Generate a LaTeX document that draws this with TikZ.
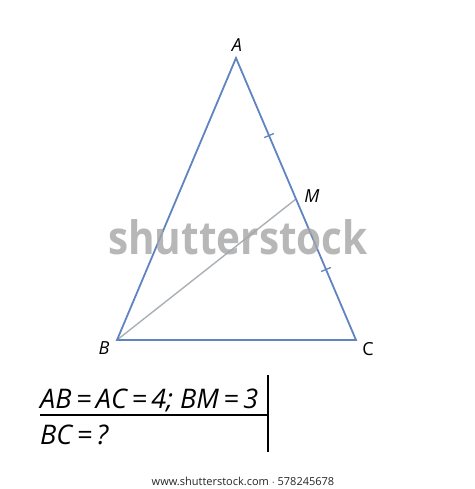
\documentclass[tikz,border=0pt]{standalone}
\usepackage{fontspec}
\setmainfont{Open Sans}
\usepackage{tikz}
\usetikzlibrary{positioning,calc}

\definecolor{sideblue}{RGB}{96,132,192}
\definecolor{cevgray}{RGB}{170,176,182}

\begin{document}
\begin{tikzpicture}[y=-1pt,x=1pt]
	\newcommand\Tick{+(-4.8,2) -- +(4.8,-2)}
	\tikzset{side/.style={draw=sideblue,line width=1.8pt,line join=miter},
		vlabel/.style={font=\fontsize{18}{20}\selectfont\itshape},
		given/.style={font=\fontsize{27}{30}\selectfont\itshape,anchor=base west,inner sep=0pt}}
	\useasboundingbox (0,0) rectangle (474,489);
	\fill[white] (0,0) rectangle (474,489);

	\coordinate (A) at (236,58);
	\coordinate (B) at (117,340);
	\coordinate (C) at (356,340);
	\coordinate (M) at ($(A)!0.5!(C)$);

	\draw[cevgray,line width=1.4pt] (B) -- (M);
	\draw[side] (A) -- (B) -- (C) -- cycle;
	\draw[sideblue,line width=1.3pt] ($(A)!0.55!(M)$) \Tick;
	\draw[sideblue,line width=1.3pt] ($(M)!0.5!(C)$) \Tick;

	\node[vlabel] (lA) at (237,45) {A};
	\node[vlabel] (lM) at (312,196) {M};
	\node[vlabel] (lB) at (104,348) {B};
	\node[vlabel,font=\fontsize{18}{20}\selectfont] (lC) at (368,349) {C};

	% watermark
	\node[text=gray!70,opacity=0.8,font=\fontsize{46}{50}\selectfont\bfseries,
		xscale=0.88,transform shape] (wm) at (238,237) {shutterstock};

	\node[given] (given) at (40,408) {AB\,=\,AC\,=\,4; BM\,=\,3};
	\node[given] (find) at (40,444) {BC\,=\,?};
	\coordinate (hl) at (40,415);
	\coordinate (hr) at (268,415);
	\coordinate (vt) at (268,375);
	\coordinate (vb) at (268,452);
	\draw[line width=1.6pt] (hl) -- (hr);
	\draw[line width=1.6pt] (vt) -- (vb);

	\node[font=\fontsize{11}{12}\selectfont,text=black!85] (url) at (243,481) {www.shutterstock.com $\cdot$ 578245678};
\end{tikzpicture}
\end{document}
